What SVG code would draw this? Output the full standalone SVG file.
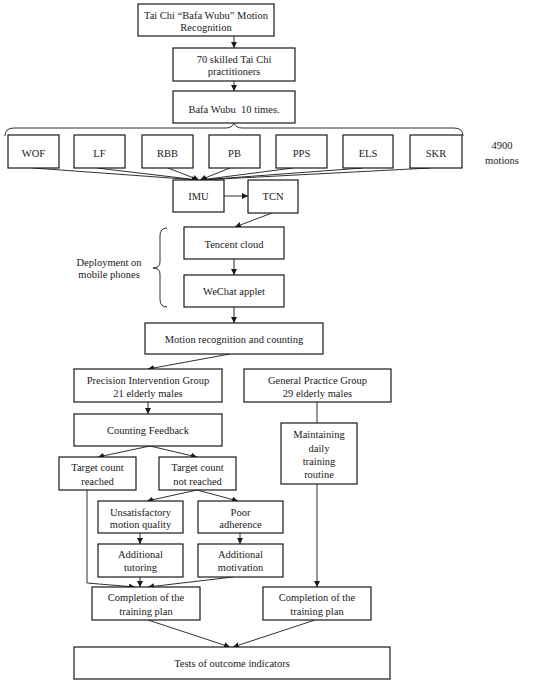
<svg xmlns="http://www.w3.org/2000/svg" width="550" height="683" viewBox="0 0 550 683" font-family="'Liberation Serif', 'Times New Roman', serif">
<style>
rect{fill:#fff;stroke:#1a1a1a;stroke-width:1.2}
text{font-family:'Liberation Serif','Times New Roman',serif;font-size:10.5px;fill:#1a1a1a;text-anchor:middle}
.c{fill:none;stroke:#1a1a1a;stroke-width:0.9}
.a{marker-end:url(#ah)}
</style>
<defs>
<marker id="ah" viewBox="0 0 10 10" refX="10" refY="5" markerWidth="6" markerHeight="6" markerUnits="userSpaceOnUse" orient="auto">
<path d="M0,0 L10,5 L0,10 Z" fill="#1a1a1a"/>
</marker>
</defs>
<rect width="550" height="683" style="fill:#fff;stroke:none"/>
<g id="connectors">
<path class="c a" d="M234,36 L234,48"/>
<path class="c a" d="M234,81 L234,91"/>
<path class="c" d="M5,136 Q5,128 14,128 L226,128 Q232,128 234,123 Q236,128 242,128 L454,128 Q463,128 463,136"/>
<path class="c a" d="M33,168 L198,180"/>
<path class="c a" d="M97,168 L198,180"/>
<path class="c a" d="M168,168 L199,180"/>
<path class="c a" d="M230,168 L200,180"/>
<path class="c a" d="M293,168 L200,180"/>
<path class="c a" d="M363,168 L201,180"/>
<path class="c a" d="M430,168 L201,180"/>
<path class="c a" d="M224,196 L248,196"/>
<path class="c a" d="M272,213 L235,227"/>
<path class="c a" d="M234,259 L234,275"/>
<path class="c" d="M167,228 Q160,228 160,236 L160,262 Q160,268 153,268 Q160,268 160,274 L160,299 Q160,307 167,307"/>
<path class="c a" d="M234,307 L234,323"/>
<path class="c a" d="M230,354 L148,369"/>
<path class="c a" d="M148,402 L148,414"/>
<path class="c" d="M317,402 L317,423"/>
<path class="c a" d="M150,446 L98,457"/>
<path class="c a" d="M150,446 L197,457"/>
<path class="c a" d="M197,490 L147,501"/>
<path class="c a" d="M197,490 L238,501"/>
<path class="c a" d="M140,533 L140,544"/>
<path class="c a" d="M240,533 L240,544"/>
<path class="c a" d="M87,490 L87,583 L135,587"/>
<path class="c a" d="M140,577 L140,587"/>
<path class="c a" d="M233,577 L148,587"/>
<path class="c a" d="M317,484 L317,587"/>
<path class="c a" d="M148,620 L230,647"/>
<path class="c a" d="M315,620 L233,647"/>
</g>
<g id="n-title"><rect x="138" y="4" width="136" height="32"/><text x="206" y="19">Tai Chi “Bafa Wubu” Motion</text><text x="206" y="31">Recognition</text></g>
<g id="n-practitioners"><rect x="173" y="48" width="122" height="33"/><text x="234" y="63">70 skilled Tai Chi</text><text x="234" y="75">practitioners</text></g>
<g id="n-bafa"><rect x="173" y="91" width="122" height="32"/><text x="234" y="113" xml:space="preserve">Bafa Wubu  10 times.</text></g>
<g id="n-wof"><rect x="8" y="135" width="51" height="33"/><text x="33.5" y="157">WOF</text></g>
<g id="n-lf"><rect x="74" y="135" width="51" height="33"/><text x="99.5" y="157">LF</text></g>
<g id="n-rbb"><rect x="142" y="135" width="51" height="33"/><text x="167.5" y="157">RBB</text></g>
<g id="n-pb"><rect x="209" y="135" width="51" height="33"/><text x="234.5" y="157">PB</text></g>
<g id="n-pps"><rect x="276" y="135" width="51" height="33"/><text x="301.5" y="157">PPS</text></g>
<g id="n-els"><rect x="343" y="135" width="50" height="33"/><text x="368" y="157">ELS</text></g>
<g id="n-skr"><rect x="410" y="135" width="52" height="33"/><text x="436" y="157">SKR</text></g>
<g id="n-4900"><text x="502" y="149">4900</text><text x="502" y="164">motions</text></g>
<g id="n-imu"><rect x="173" y="180" width="51" height="32"/><text x="198.5" y="200">IMU</text></g>
<g id="n-tcn"><rect x="248" y="180" width="50" height="33"/><text x="273" y="200">TCN</text></g>
<g id="n-deploy"><text x="109" y="266">Deployment on</text><text x="109" y="278">mobile phones</text></g>
<g id="n-tencent"><rect x="184" y="227" width="100" height="32"/><text x="234" y="248">Tencent cloud</text></g>
<g id="n-wechat"><rect x="184" y="275" width="100" height="32"/><text x="234" y="295">WeChat applet</text></g>
<g id="n-motion"><rect x="145" y="323" width="178" height="31"/><text x="234" y="343">Motion recognition and counting</text></g>
<g id="n-pig"><rect x="74" y="369" width="148" height="33"/><text x="148" y="384">Precision Intervention Group</text><text x="148" y="397">21 elderly males</text></g>
<g id="n-gpg"><rect x="244" y="369" width="147" height="33"/><text x="317.5" y="384">General Practice Group</text><text x="317.5" y="397">29 elderly males</text></g>
<g id="n-cf"><rect x="74" y="414" width="148" height="32"/><text x="148" y="434">Counting Feedback</text></g>
<g id="n-maintain"><rect x="281" y="423" width="76" height="61"/><text x="319" y="438">Maintaining</text><text x="319" y="452">daily</text><text x="319" y="465">training</text><text x="319" y="478">routine</text></g>
<g id="n-reached"><rect x="59" y="457" width="77" height="33"/><text x="97.5" y="471">Target count</text><text x="97.5" y="485">reached</text></g>
<g id="n-notreached"><rect x="159" y="457" width="77" height="33"/><text x="197.5" y="471">Target count</text><text x="197.5" y="485">not reached</text></g>
<g id="n-unsat"><rect x="98" y="501" width="85" height="32"/><text x="140.5" y="516">Unsatisfactory</text><text x="140.5" y="528">motion quality</text></g>
<g id="n-poor"><rect x="198" y="501" width="85" height="32"/><text x="240.5" y="516">Poor</text><text x="240.5" y="528">adherence</text></g>
<g id="n-tutor"><rect x="98" y="544" width="85" height="33"/><text x="140.5" y="558">Additional</text><text x="140.5" y="571">tutoring</text></g>
<g id="n-motiv"><rect x="198" y="544" width="85" height="33"/><text x="240.5" y="558">Additional</text><text x="240.5" y="571">motivation</text></g>
<g id="n-comp1"><rect x="92" y="587" width="108" height="33"/><text x="146" y="601">Completion of the</text><text x="146" y="615">training plan</text></g>
<g id="n-comp2"><rect x="263" y="587" width="108" height="33"/><text x="317" y="601">Completion of the</text><text x="317" y="615">training plan</text></g>
<g id="n-tests"><rect x="74" y="647" width="316" height="32"/><text x="232" y="667">Tests of outcome indicators</text></g>
</svg>
